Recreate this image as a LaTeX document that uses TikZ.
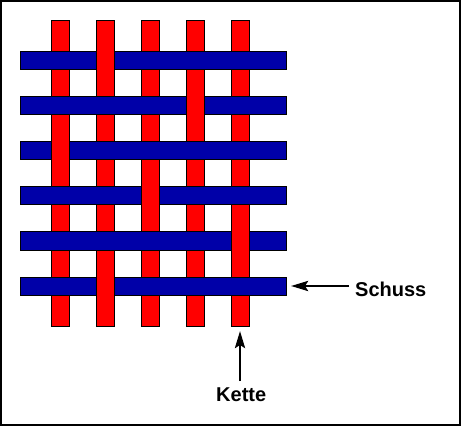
\documentclass[tikz,border=0pt]{standalone}
\usepackage{fontspec}
\setmainfont{Liberation Sans}
\usetikzlibrary{arrows.meta}
\definecolor{weftblue}{HTML}{0000A8}
\definecolor{warpred}{HTML}{FF0000}
\tikzset{
  warp/.style={draw=black, line width=1pt, fill=warpred, inner sep=0pt, outer sep=0pt, minimum width=18pt, minimum height=305pt},
  weft/.style={draw=black, line width=1pt, fill=weftblue, inner sep=0pt, outer sep=0pt, minimum width=266pt, minimum height=18pt},
  lbl/.style={font=\bfseries\fontsize{20}{24}\selectfont, inner sep=0pt},
  arr/.style={line width=2.8pt, -{Stealth[length=17pt,width=10pt,inset=3pt]}},
}
\begin{document}
\begin{tikzpicture}[x=1pt,y=-1pt]
\useasboundingbox (0,0) rectangle (462,427);
\draw[line width=1.5pt] (1,1) rectangle (460,425);
% warp (Kette) threads
\foreach \c in {1,...,5} {
  \node[warp] (k\c) at ({60+45*(\c-1)},173.5) {};
}
% weft (Schuss) threads
\foreach \r in {1,...,6} {
  \node[weft] (b\r) at (153,{61+45*(\r-1)}) {};
}
% crossings where the warp lies on top
\foreach \r/\c in {1/2,2/4,3/1,4/3,5/5,6/2} {
  \fill[warpred] ([yshift=0.6pt]k\c.west |- b\r.north) rectangle ([yshift=-0.6pt]k\c.east |- b\r.south);
  \draw[line width=1pt] ([yshift=0.6pt]k\c.west |- b\r.north) -- ([yshift=-0.6pt]k\c.west |- b\r.south)
                        ([yshift=0.6pt]k\c.east |- b\r.north) -- ([yshift=-0.6pt]k\c.east |- b\r.south);
}
% labels
\node[lbl, anchor=base west] (schuss) at (355,296) {Schuss};
\node[lbl, anchor=base west] (kette) at (216,401) {Kette};
\draw[arr] ([xshift=-6pt]schuss.west |- b6.east) -- ([xshift=5pt]b6.east);
\draw[arr] ([yshift=6pt]k5.south |- kette.north) -- ([yshift=-5pt]k5.south);
\end{tikzpicture}
\end{document}
